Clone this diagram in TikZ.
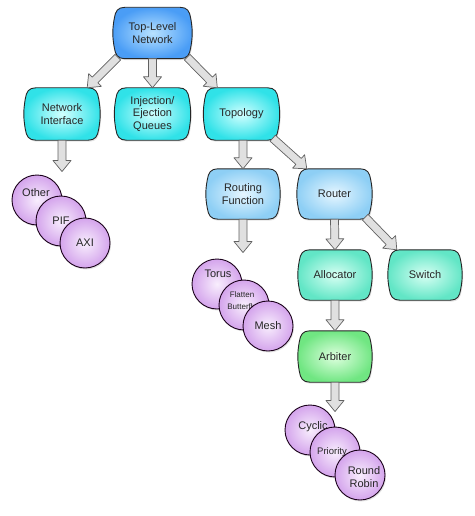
\documentclass[tikz,border=0pt]{standalone}
\usepackage{fontspec}
\setmainfont{Liberation Sans}
\usetikzlibrary{calc,backgrounds,shadows}
\definecolor{topA}{HTML}{B8E2FF}\definecolor{topB}{HTML}{4A9DF6}
\definecolor{cyA}{HTML}{D2FFFF}\definecolor{cyB}{HTML}{30E2E8}
\definecolor{rfA}{HTML}{E6F6FF}\definecolor{rfB}{HTML}{8ECFF5}
\definecolor{alA}{HTML}{D8FFF3}\definecolor{alB}{HTML}{62E6C6}
\definecolor{arA}{HTML}{DEFFDF}\definecolor{arB}{HTML}{70E682}
\definecolor{ciA}{HTML}{F8EEFD}\definecolor{ciB}{HTML}{D4A4EC}
\tikzset{
  boxnode/.style={rectangle, minimum width=76pt, minimum height=51pt, inner sep=0pt,
    align=center, text=black!85, font=\fontsize{11}{13}\selectfont},
  softshadow/.style={drop shadow={opacity=0.22, shadow xshift=1pt, shadow yshift=-1.5pt}},
  ball/.style={circle, minimum size=50pt, inner sep=0pt, draw=black!80!violet,
    line width=0.9pt, inner color=ciA, outer color=ciB, softshadow},
  balltext/.style={text=black!85, align=center, font=\fontsize{11}{13}\selectfont},
  blockarrow/.style={draw=black!62, line width=0.7pt, fill=black!12, line join=round}
}
\newcommand\bowbox[3]{%
\begin{pgfonlayer}{background}
\path[draw=black!85, line width=0.9pt, inner color=#2, outer color=#3, softshadow]
 ([xshift=12pt]#1.north west) -- ([xshift=-12pt]#1.north east)
 .. controls ([xshift=-5pt]#1.north east) and ([xshift=-2.5pt,yshift=-4pt]#1.north east) .. ([xshift=-1.5pt,yshift=-11pt]#1.north east)
 .. controls ([xshift=0.5pt,yshift=3.5pt]#1.east) and ([xshift=0.5pt,yshift=-3.5pt]#1.east) .. ([xshift=-1.5pt,yshift=11pt]#1.south east)
 .. controls ([xshift=-2.5pt,yshift=4pt]#1.south east) and ([xshift=-5pt]#1.south east) .. ([xshift=-12pt]#1.south east)
 -- ([xshift=12pt]#1.south west)
 .. controls ([xshift=5pt]#1.south west) and ([xshift=2.5pt,yshift=4pt]#1.south west) .. ([xshift=1.5pt,yshift=11pt]#1.south west)
 .. controls ([xshift=-0.5pt,yshift=-3.5pt]#1.west) and ([xshift=-0.5pt,yshift=3.5pt]#1.west) .. ([xshift=1.5pt,yshift=-11pt]#1.north west)
 .. controls ([xshift=2.5pt,yshift=-4pt]#1.north west) and ([xshift=5pt]#1.north west) .. cycle;
\end{pgfonlayer}}
\newcommand\blockarr[2]{%
\draw[blockarrow] let \p1=#1, \p2=#2, \n1={atan2(\y2-\y1,\x2-\x1)},
   \n2={veclen(\x2-\x1,\y2-\y1)-11} in
 ($(\p1)+(\n1+90:4pt)$) -- ($(\p1)+(\n1:\n2)+(\n1+90:4pt)$)
 -- ($(\p1)+(\n1:\n2)+(\n1+90:9pt)$) -- (\p2)
 -- ($(\p1)+(\n1:\n2)+(\n1-90:9pt)$) -- ($(\p1)+(\n1:\n2)+(\n1-90:4pt)$)
 -- ($(\p1)+(\n1-90:4pt)$) -- cycle;}
\begin{document}
\begin{tikzpicture}[x=1pt,y=-1pt]
\useasboundingbox (0,0) rectangle (474,516);
% boxes
\node[boxnode, minimum width=79pt] (top) at (152.5,33) {Top-Level\\Network};
\node[boxnode, minimum height=52pt] (ni) at (62,114) {Network\\Interface};
\node[boxnode, minimum height=52pt, font=\fontsize{11}{12.5}\selectfont] (inj) at (152.5,114) {Injection/\\Ejection\\Queues};
\node[boxnode, minimum height=52pt] (topo) at (241.5,114) {Topology};
\node[boxnode, minimum width=74pt, minimum height=50pt] (rf) at (243,194) {Routing\\Function};
\node[boxnode, minimum width=75pt, minimum height=50pt] (router) at (334.5,194) {Router};
\node[boxnode, minimum width=74pt, minimum height=50pt] (alloc) at (335,275) {Allocator};
\node[boxnode, minimum width=74pt, minimum height=50pt] (switch) at (425,275) {Switch};
\node[boxnode, minimum width=74pt, minimum height=51pt] (arbiter) at (335,356.5) {Arbiter};
\bowbox{top}{topA}{topB}
\bowbox{ni}{cyA}{cyB}
\bowbox{inj}{cyA}{cyB}
\bowbox{topo}{cyA}{cyB}
\bowbox{rf}{rfA}{rfB}
\bowbox{router}{rfA}{rfB}
\bowbox{alloc}{alA}{alB}
\bowbox{switch}{alA}{alB}
\bowbox{arbiter}{arA}{arB}
% circles
\node[ball, label={[balltext, xshift=-1pt, yshift=7pt]center:Other}] (other) at (37,200) {};
\node[ball, label={[balltext]center:PIF}] (pif) at (61,221) {};
\node[ball, label={[balltext]center:AXI}] (axi) at (85,243) {};
\node[ball, label={[balltext, xshift=1pt, yshift=10pt]center:Torus}] (torus) at (217,284) {};
\node[ball, label={[balltext, font=\fontsize{8}{12}\selectfont, xshift=-2pt, yshift=4pt]center:Flatten\\Butterfly}] (flat) at (244,305) {};
\node[ball, label={[balltext]center:Mesh}] (mesh) at (268,326) {};
\node[ball, label={[balltext, xshift=3pt, yshift=3pt]center:Cyclic}] (cyclic) at (310,430) {};
\node[ball, label={[balltext, font=\fontsize{9.5}{12}\selectfont, xshift=-3pt]center:Priority}] (prio) at (335,452) {};
\node[ball, label={[balltext, font=\fontsize{11}{12.5}\selectfont, xshift=4pt, yshift=-2pt]center:Round\\Robin}] (rr) at (360,475) {};
% arrows
\blockarr{([shift={(5,-1.5)}]top.south west)}{([xshift=-13pt]ni.north east)}
\blockarr{(top.south)}{(inj.north)}
\blockarr{([shift={(-5,-1.5)}]top.south east)}{([xshift=14pt]topo.north west)}
\blockarr{(ni.south)}{($(ni.south |- other.north)+(0,-3)$)}
\blockarr{(rf.north |- topo.south)}{(rf.north)}
\blockarr{([shift={(-7,-2)}]topo.south east)}{([xshift=10pt]router.north west)}
\blockarr{(rf.south)}{($(rf.south |- torus.north)+(0,-6)$)}
\blockarr{(router.south)}{(alloc.north)}
\blockarr{([shift={(-7,-2)}]router.south east)}{([xshift=9pt]switch.north west)}
\blockarr{(alloc.south)}{(arbiter.north)}
\blockarr{(arbiter.south)}{($(arbiter.south |- cyclic.north)+(0,7)$)}
\end{tikzpicture}
\end{document}
